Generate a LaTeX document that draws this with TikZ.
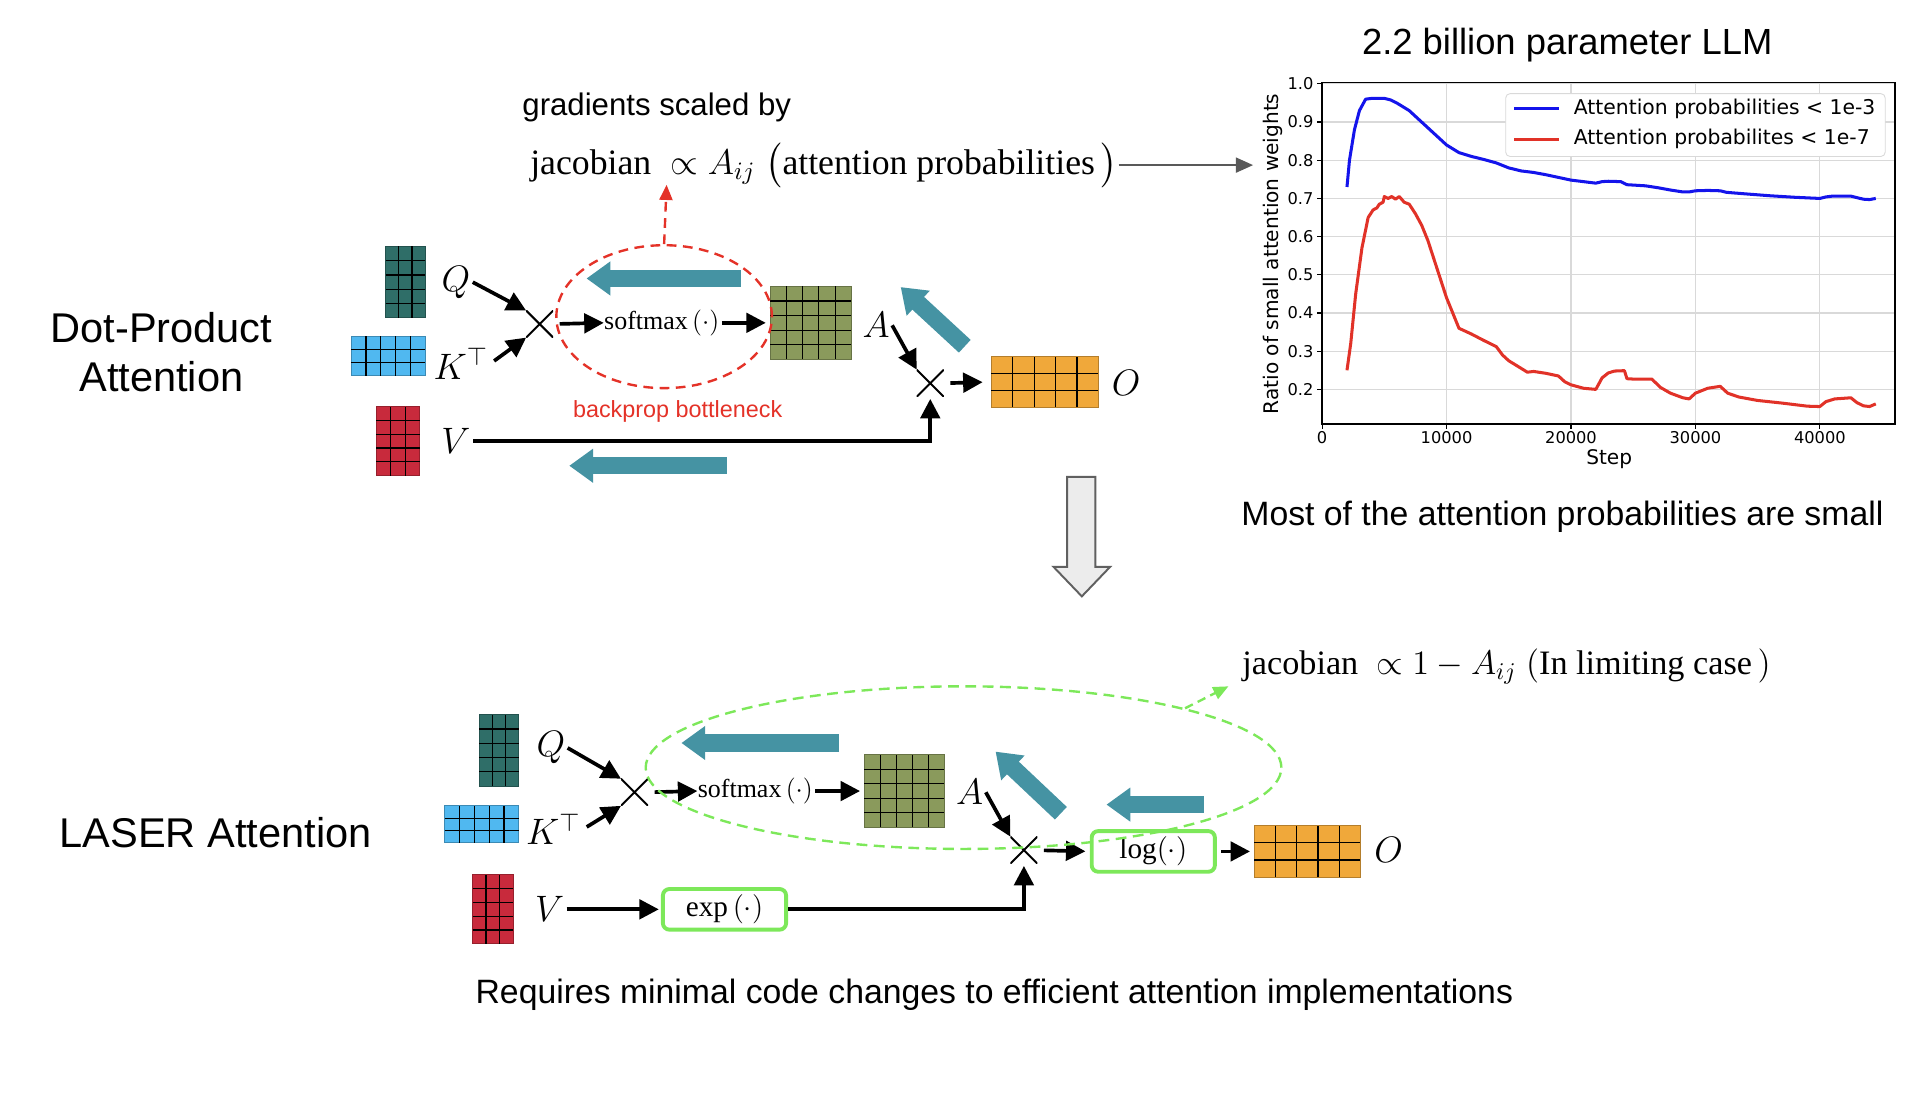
\RequirePackage{fix-cm}
\documentclass[tikz,border=0pt]{standalone}
\usepackage{amsmath}
\usepackage{xcolor}
\usepackage{fontspec}
\setmainfont{Liberation Serif}
\setsansfont{Liberation Sans}
\newfontfamily\plotfont{DejaVu Sans}
\usepackage{tikz}
\usetikzlibrary{shapes.geometric, arrows.meta, positioning, calc}

\definecolor{qteal}{RGB}{47,110,104}
\definecolor{kblue}{RGB}{80,184,240}
\definecolor{vred}{RGB}{200,42,60}
\definecolor{aolive}{RGB}{138,154,92}
\definecolor{oorange}{RGB}{240,168,58}
\definecolor{bteal}{RGB}{69,147,163}
\definecolor{lgreen}{RGB}{125,232,90}
\definecolor{bneck}{RGB}{228,50,40}
\definecolor{pblue}{RGB}{20,20,235}
\definecolor{pred}{RGB}{225,50,40}

\tikzset{
  matbox/.style={rectangle, inner sep=0pt, outer sep=0pt, line width=0.4pt},
  matline/.style={black, line width=0.55pt},
  lbl/.style={font=\sffamily\fontsize{19.2}{22.8}\selectfont, align=center},
  note/.style={font=\sffamily\fontsize{15.6}{18}\selectfont},
  eq/.style={font=\fontsize{16.5}{20}\selectfont, inner sep=0pt},
  op/.style={font=\fontsize{12}{14}\selectfont, inner sep=0pt},
  sym/.style={font=\fontsize{17}{20}\selectfont, inner sep=1pt},
  mul/.style={minimum size=0.44cm, inner sep=0pt, outer sep=0pt,
    path picture={\draw[line width=0.9pt] (path picture bounding box.south west) -- (path picture bounding box.north east)
      (path picture bounding box.north west) -- (path picture bounding box.south east);}},
  fwd/.style={line width=1.7pt, -{Triangle[length=9pt,width=9pt]}},
  back/.style={bteal, line width=8pt, -{Triangle[length=11pt,width=15pt]}},
  gbox/.style={draw=lgreen, line width=1.8pt, rounded corners=3pt, inner sep=0pt,
    minimum width=2cm, minimum height=0.66cm, font=\fontsize{13.5}{16}\selectfont},
  tick/.style={font=\plotfont\fontsize{7.5}{9}\selectfont, inner sep=1pt},
  axlbl/.style={font=\plotfont\fontsize{9.3}{11}\selectfont, inner sep=0pt},
}

% matrice con griglia: nome, centro, colonne, righe, larghezza, altezza, colore
\newcommand{\gridmat}[7]{%
  \node[matbox, fill=#7, draw=#7!75!black, minimum width=#5*0.02cm, minimum height=#6*0.02cm] (#1) at #2 {};
  \foreach \i in {2,...,#3}
    \draw[matline] ($(#1.south west)!{(\i-1)/#3}!(#1.south east)$) -- ($(#1.north west)!{(\i-1)/#3}!(#1.north east)$);
  \foreach \j in {2,...,#4}
    \draw[matline] ($(#1.south west)!{(\j-1)/#4}!(#1.north west)$) -- ($(#1.south east)!{(\j-1)/#4}!(#1.north east)$);
}

\begin{document}
\begin{tikzpicture}[x=0.02cm, y=-0.02cm]
    \useasboundingbox (0,0) rectangle (1568,893);

    % Titoli
    \node[lbl] (dpTitle) at (131,286) {Dot-Product\\Attention};
    \node[lbl] (lsTitle) at (175,676) {LASER Attention};

    % Dot-Product: matrici
    \gridmat{qA}{(329,229)}{3}{5}{32}{58}{qteal}
    \gridmat{kA}{(315,289)}{5}{3}{60}{32}{kblue}
    \gridmat{vA}{(323,358)}{3}{5}{35}{56}{vred}
    \gridmat{aA}{(658,262)}{5}{5}{66}{59}{aolive}
    \gridmat{oA}{(848,310)}{5}{3}{87}{41}{oorange}

    \node[sym] (qLabA) at (370,229) {$Q$};
    \node[sym] (kLabA) at (374,295) {$K^{\top}$};
    \node[sym] (vLabA) at (370,358) {$V$};
    \node[sym] (aLabA) at (711,264) {$A$};
    \node[sym] (oLabA) at (914,311) {$O$};

    \node[mul] (mulA1) at (438,263) {};
    \node[mul] (mulA2) at (755,311) {};
    \node[op] (smA) at (537,262) {softmax\,$(\cdot)$};

    \draw[fwd] (qLabA.east) -- (mulA1.north west);
    \draw[fwd, shorten <=2pt] (kLabA.east) -- (mulA1.south west);
    \draw[fwd, shorten <=3pt] (mulA1.east) -- (smA.west);
    \draw[fwd, shorten <=1pt, shorten >=2pt] (smA.east) -- (aA.west);
    \draw[fwd] (aLabA.east) -- (mulA2.north west);
    \draw[fwd, shorten <=3pt, shorten >=4pt] (mulA2.east) -- (oA.west);
    \draw[fwd, shorten >=1pt] (vLabA.east) -| (mulA2.south);

    % Dot-Product: gradienti all'indietro
    \coordinate (bA1s) at (601,226); \coordinate (bA1e) at (476,226);
    \coordinate (bA2s) at (783,281); \coordinate (bA2e) at (731,233);
    \coordinate (bA3s) at (590,378); \coordinate (bA3e) at (462,378);
    \draw[back] (bA1s) -- (bA1e);
    \draw[back] (bA2s) -- (bA2e);
    \draw[back] (bA3s) -- (bA3e);

    % collo di bottiglia
    \node[ellipse, draw=bneck, line width=1.1pt, dash pattern=on 4.5pt off 3pt,
      minimum width=3.5cm, minimum height=2.32cm, inner sep=0pt] (bnA) at (539,257) {};
    \node[font=\sffamily\fontsize{10.8}{13}\selectfont, text=bneck] (bnLab) at (550,334) {backprop bottleneck};
    \node[font=\sffamily\fontsize{14.4}{17}\selectfont, inner sep=0pt] (gradLab) at (533,87) {gradients scaled by};
    \node[eq, anchor=west] (jacA) at (430,134) {jacobian $\;\propto A_{ij}\;\bigl($attention probabilities$\,\bigr)$};
    \coordinate (gradTip) at (541,150);
    \draw[bneck, line width=1.1pt, dash pattern=on 4.5pt off 3pt, -{Triangle[length=7pt,width=6pt]}] (bnA.north) -- (gradTip);

    \coordinate (plotIn) at (1017,134);
    \draw[gray!70!black, line width=0.8pt, -{Triangle[length=8pt,width=7pt]}] (jacA.east) -- (plotIn);

    % freccia verso il basso
    \draw[gray!75!black, fill=gray!15, line width=0.9pt]
      (866,387) -- (889,387) -- (889,460) -- (901,460) -- (878,484) -- (855,460) -- (866,460) -- cycle;

    % Grafico
    \node[font=\sffamily\fontsize{16.8}{20}\selectfont] (plotTitle) at (1272,37) {2.2 billion parameter LLM};
    \foreach \k in {1,...,4}
      \draw[gray!30, line width=0.5pt] ({1073+101*\k},67) -- ({1073+101*\k},344);
    \foreach \k in {0,...,8}
      \draw[gray!30, line width=0.5pt] (1073,{68+31*\k}) -- (1538,{68+31*\k});
    \foreach \k/\t in {0/1.0,1/0.9,2/0.8,3/0.7,4/0.6,5/0.5,6/0.4,7/0.3,8/0.2} {
      \draw[line width=0.5pt] (1069,{68+31*\k}) -- (1073,{68+31*\k});
      \node[tick, anchor=east] at (1068,{68+31*\k}) {\t};
    }
    \foreach \k/\t in {0/0,1/10000,2/20000,3/30000,4/40000} {
      \draw[line width=0.5pt] ({1073+101*\k},344) -- ({1073+101*\k},348);
      \node[tick, anchor=north] at ({1073+101*\k},348) {\t};
    }
    \node[axlbl] (stepLab) at (1306,373) {Step};
    \node[axlbl, rotate=90] (ratioLab) at (1033,206) {Ratio of small attention weights};

    \begin{scope}[shift={(1073,378)}, x=0.202cm, y=6.2cm]
      \draw[pblue, line width=1.4pt, line join=round] plot coordinates {
        (2,0.73) (2.2,0.80) (2.6,0.88) (3,0.93) (3.5,0.96) (4,0.962) (5,0.962) (5.5,0.958)
        (6,0.95) (7,0.93) (8,0.90) (9,0.87) (10,0.84) (11,0.82) (12,0.81) (13,0.802)
        (14,0.793) (15,0.78) (16,0.772) (17,0.768) (18,0.762) (19,0.755) (20,0.748)
        (21,0.744) (22,0.74) (22.5,0.744) (23,0.745) (24,0.744) (24.5,0.736) (26,0.733)
        (27,0.728) (28,0.722) (29,0.717) (29.5,0.717) (30,0.72) (31,0.721) (32,0.72)
        (32.5,0.716) (34,0.712) (36,0.707) (38,0.703) (40,0.70) (40.5,0.704) (41,0.706)
        (42.5,0.706) (43,0.702) (43.5,0.698) (44,0.697) (44.5,0.70)};
      \draw[pred, line width=1.4pt, line join=round] plot coordinates {
        (2,0.25) (2.3,0.32) (2.7,0.45) (3.2,0.57) (3.7,0.65) (4.1,0.67) (4.4,0.675)
        (4.6,0.685) (4.9,0.69) (5,0.705) (5.3,0.70) (5.6,0.705) (5.9,0.698) (6.2,0.705)
        (6.6,0.69) (7,0.685) (7.5,0.66) (8,0.63) (8.5,0.59) (9,0.54) (9.5,0.49) (10,0.44)
        (10.5,0.40) (11,0.36) (12,0.345) (13,0.328) (14,0.312) (14.5,0.29) (15,0.275)
        (16,0.255) (16.5,0.245) (17,0.247) (18,0.242) (19,0.235) (19.5,0.22) (20,0.212)
        (21,0.203) (22,0.20) (22.5,0.23) (23,0.243) (23.5,0.248) (24.3,0.249) (24.5,0.228)
        (25,0.227) (26.5,0.227) (27.2,0.205) (28,0.19) (29,0.178) (29.5,0.175) (30,0.19)
        (31,0.203) (32,0.208) (32.6,0.19) (33.5,0.18) (35,0.171) (37,0.164) (39,0.156)
        (40,0.155) (40.5,0.168) (41.2,0.175) (42.5,0.178) (43,0.165) (43.5,0.157)
        (44,0.155) (44.5,0.162)};
    \end{scope}
    \draw[line width=0.6pt] (1073,67) rectangle (1538,344);

    % legenda
    \draw[gray!30, fill=white, rounded corners=2pt] (1222,76) rectangle (1530,127);
    \coordinate (legB) at (1229,88); \coordinate (legR) at (1229,113);
    \draw[pblue, line width=1.4pt] (legB) -- ++(36,0);
    \draw[pred, line width=1.4pt] (legR) -- ++(36,0);
    \node[font=\plotfont\fontsize{9.4}{11}\selectfont, anchor=west, inner sep=0pt] (legBt) at (1277,88) {Attention probabilities < 1e-3};
    \node[font=\plotfont\fontsize{9.4}{11}\selectfont, anchor=west, inner sep=0pt] (legRt) at (1277,113) {Attention probabilites < 1e-7};

    \node[note] (smallLab) at (1268,419) {Most of the attention probabilities are small};

    % LASER: matrici
    \gridmat{qB}{(405,609)}{3}{5}{32}{58}{qteal}
    \gridmat{kB}{(391,669)}{5}{3}{60}{30}{kblue}
    \gridmat{vB}{(400,738)}{3}{5}{33}{56}{vred}
    \gridmat{aB}{(734,642)}{5}{5}{65}{59}{aolive}
    \gridmat{oB}{(1061,691)}{5}{3}{86}{42}{oorange}

    \node[sym] (qLabB) at (447,607) {$Q$};
    \node[sym] (kLabB) at (449,673) {$K^{\top}$};
    \node[sym] (vLabB) at (446,738) {$V$};
    \node[sym] (aLabB) at (787,643) {$A$};
    \node[sym] (oLabB) at (1127,690) {$O$};

    \node[mul] (mulB1) at (515,643) {};
    \node[mul] (mulB2) at (831,690) {};
    \node[op] (smB) at (613,642) {softmax\,$(\cdot)$};
    \node[gbox] (logB) at (936,691) {log$(\cdot)$};
    \node[gbox] (expB) at (588,738) {exp\,$(\cdot)$};

    \draw[fwd] (qLabB.east) -- (mulB1.north west);
    \draw[fwd, shorten <=2pt] (kLabB.east) -- (mulB1.south west);
    \draw[fwd, shorten <=3pt] (mulB1.east) -- (smB.west);
    \draw[fwd, shorten <=1pt, shorten >=2pt] (smB.east) -- (aB.west);
    \draw[fwd] (aLabB.east) -- (mulB2.north west);
    \draw[fwd, shorten <=3pt, shorten >=2pt] (mulB2.east) -- (logB.west);
    \draw[fwd, shorten <=2pt, shorten >=2pt] (logB.east) -- (oB.west);
    \draw[fwd, shorten >=1pt] (vLabB.east) -- (expB.west);
    \draw[fwd, shorten >=1pt] (expB.east) -| (mulB2.south);

    % LASER: gradienti all'indietro
    \coordinate (bB1s) at (681,603); \coordinate (bB1e) at (553,603);
    \coordinate (bB2s) at (861,660); \coordinate (bB2e) at (808,610);
    \coordinate (bB3s) at (977,653); \coordinate (bB3e) at (898,653);
    \draw[back] (bB1s) -- (bB1e);
    \draw[back] (bB2s) -- (bB2e);
    \draw[back] (bB3s) -- (bB3e);

    \node[ellipse, draw=lgreen, line width=1.1pt, dash pattern=on 5pt off 3pt,
      minimum width=10.32cm, minimum height=2.64cm, inner sep=0pt] (gEll) at (782,623) {};
    \node[eq, anchor=west, font=\fontsize{15.8}{19}\selectfont] (jacB) at (1008,541) {jacobian $\;\propto 1-A_{ij}\;($In limiting case$\,)$};
    \coordinate (limTip) at (997,557);
    \draw[lgreen, line width=1.1pt, dash pattern=on 4pt off 2.5pt, -{Triangle[length=7pt,width=6pt]}] (gEll.15) -- (limTip);

    \node[note] (codeLab) at (807,807) {Requires minimal code changes to efficient attention implementations};
\end{tikzpicture}
\end{document}
